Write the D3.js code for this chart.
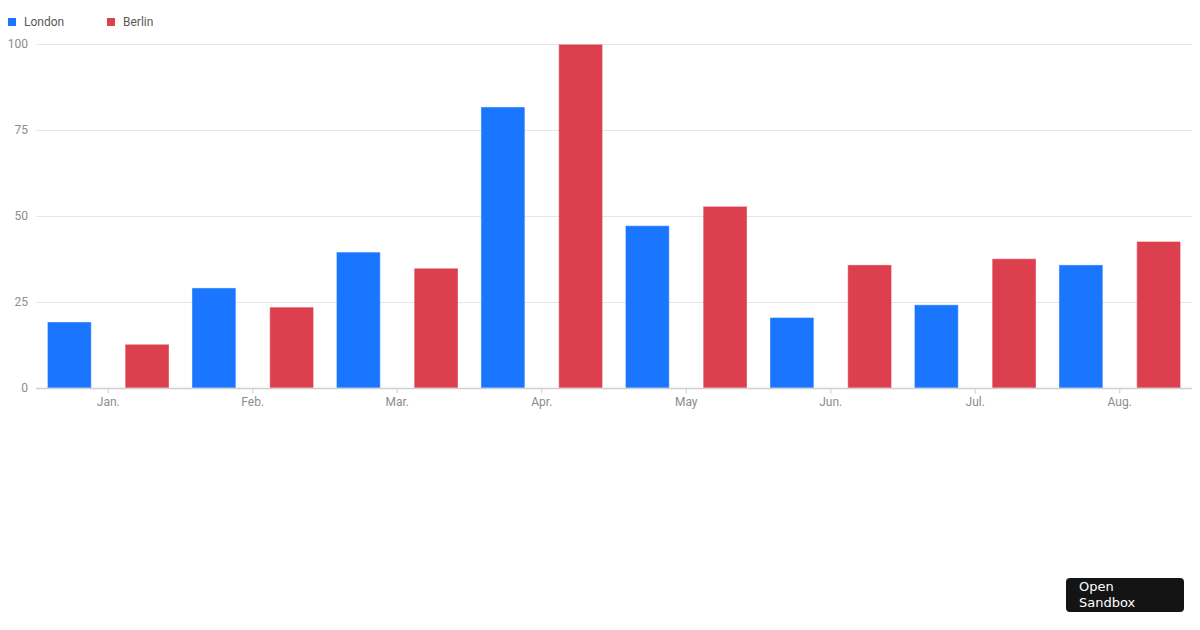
<!DOCTYPE html>
<meta charset="utf-8">
<style>
    body { margin: 0; background: #fff; }
    svg text { font-family: Roboto, "Noto Sans", sans-serif; }
    .grid line { stroke: #e6e6e6; stroke-width: 1; }
    .axis text { fill: #8c8c8c; font-size: 12px; }
    .legend text { fill: #595959; font-size: 12px; }
    .sandbox {
        position: absolute; left: 1066px; top: 578px; width: 118px; height: 34px;
        background: #141414; border-radius: 4px; color: #fff; box-sizing: border-box;
        padding: 1px 0 0 13px; font: 13px/16px "DejaVu Sans", sans-serif;
    }
</style>
<svg width="1200" height="630"></svg>
<div class="sandbox">Open<br>Sandbox</div>
<script src="https://cdn.jsdelivr.net/npm/d3@7/dist/d3.min.js"></script>
<script>

    const months = ["Jan.", "Feb.", "Mar.", "Apr.", "May", "Jun.", "Jul.", "Aug."];
    const seriesNames = ["London", "Berlin"];
    const london = [18.9, 28.8, 39.2, 81.4, 46.9, 20.2, 23.9, 35.5];
    const berlin = [12.4, 23.2, 34.5, 99.6, 52.5, 35.5, 37.3, 42.3];
    const yTicks = [0, 25, 50, 75, 100];
    const colors = ["#1a76ff", "#dc3f4d"];

    const svg = d3.select("svg");
    const margin = { left: 36, right: 8, top: 43.5, bottom: 242.5 };
    const width = +svg.attr("width"), height = +svg.attr("height");

    const x = d3.scaleBand()
        .domain(months)
        .range([margin.left, width - margin.right]);

    // two bars per month, wide gap between them
    const inner = d3.scaleBand()
        .domain(seriesNames)
        .range([0, x.bandwidth()])
        .paddingInner(0.449)
        .paddingOuter(0.154);

    const y = d3.scaleLinear()
        .domain([0, 100])
        .range([height - margin.bottom, margin.top]);

    // grid
    svg.append("g").attr("class", "grid")
        .selectAll("line")
        .data(yTicks.slice(1))
        .join("line")
        .attr("x1", margin.left).attr("x2", width - margin.right)
        .attr("y1", d => Math.round(y(d)) + 0.5).attr("y2", d => Math.round(y(d)) + 0.5);

    // y labels
    svg.append("g").attr("class", "axis")
        .selectAll("text")
        .data(yTicks)
        .join("text")
        .attr("x", 28)
        .attr("y", d => y(d))
        .attr("dy", "0.35em")
        .attr("text-anchor", "end")
        .text(d => d);

    // bars
    const data = months.map((m, i) => ({ month: m, values: [london[i], berlin[i]] }));

    svg.append("g")
        .selectAll("g")
        .data(data)
        .join("g")
        .attr("transform", d => "translate(" + x(d.month) + ",0)")
        .selectAll("rect")
        .data(d => d.values.map((v, i) => ({ key: seriesNames[i], value: v, i: i })))
        .join("rect")
        .attr("x", d => inner(d.key))
        .attr("width", inner.bandwidth())
        .attr("y", d => y(d.value))
        .attr("height", d => y(0) - y(d.value))
        .attr("fill", d => colors[d.i])
        .attr("stroke", d => colors[d.i])
        .attr("stroke-opacity", 0.6)
        .attr("stroke-width", 1);

    // x axis
    const xAxis = svg.append("g").attr("class", "axis")
        .attr("transform", "translate(0," + (Math.round(y(0)) + 0.5) + ")");

    xAxis.append("line")
        .attr("x1", margin.left).attr("x2", width - margin.right)
        .attr("stroke", "#cfcfcf").attr("stroke-width", 1.5);

    const ticks = xAxis.selectAll(".tick")
        .data(months)
        .join("g")
        .attr("class", "tick")
        .attr("transform", d => "translate(" + (x(d) + x.bandwidth() / 2) + ",0)");

    ticks.append("line").attr("y2", 5).attr("stroke", "#cfcfcf");
    ticks.append("text")
        .attr("y", 17)
        .attr("text-anchor", "middle")
        .text(d => d);

    // legend
    const legend = svg.append("g").attr("class", "legend")
        .selectAll("g")
        .data(seriesNames)
        .join("g")
        .attr("transform", (d, i) => "translate(" + (8 + i * 99) + ",18)");

    legend.append("rect")
        .attr("width", 8).attr("height", 8)
        .attr("fill", (d, i) => colors[i]);

    legend.append("text")
        .attr("x", 16).attr("y", 4)
        .attr("dy", "0.35em")
        .text(d => d);

</script>
